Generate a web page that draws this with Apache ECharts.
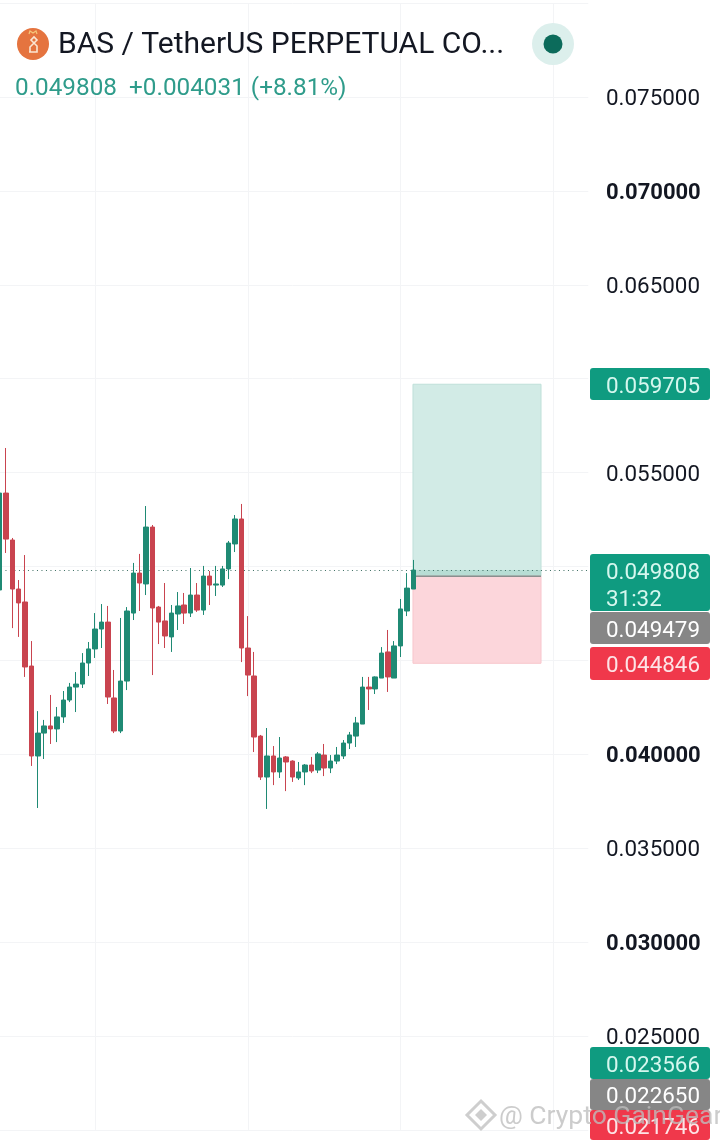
<!DOCTYPE html>
<html><head><meta charset="utf-8">
<style>html,body{margin:0;padding:0;background:#fff;overflow:hidden;width:720px;height:1140px}#c{width:724px;height:1140px;margin-left:-4px}</style>
<script src="https://cdn.jsdelivr.net/npm/echarts@6/dist/echarts.min.js"></script>
</head><body><div id="c"></div>
<script>
const candleOpen=[.04875,.05391,.05141,.04880,.04811,.04470,.03991,.04113,.04151,.04135,.04199,.04289,.04358,.04374,.04486,.04561,.04667,.04704,.04300,.04124,.04390,.04752,.04965,.04907,.05210,.04784,.04710,.04625,.04747,.04795,.04752,.04848,.04768,.04949,.04901,.04901,.04987,.05120,.05253,.04566,.04417,.04097,.03879,.03991,.03906,.03986,.03964,.03874,.03906,.03943,.03916,.03996,.03927,.03964,.03991,.04060,.04097,.04161,.04358,.04348,.04406,.04545,.04406,.04577,.04763,.04880];
const candleClose=[.05391,.05146,.04880,.04806,.04465,.03991,.04113,.04151,.04135,.04199,.04289,.04358,.04374,.04486,.04561,.04667,.04704,.04305,.04124,.04390,.04763,.04965,.04912,.05210,.04779,.04704,.04630,.04752,.04790,.04752,.04848,.04768,.04949,.04901,.04907,.04987,.05125,.05253,.04566,.04422,.04092,.03879,.03991,.03906,.03980,.03959,.03879,.03906,.03943,.03911,.04002,.03927,.03964,.03996,.04060,.04103,.04167,.04358,.04348,.04412,.04539,.04412,.04577,.04774,.04885,.04981];
const candleLow=[.04870,.05072,.04672,.04625,.04412,.03938,.03714,.03975,.04055,.04065,.04167,.04278,.04225,.04353,.04417,.04513,.04566,.04268,.04113,.04113,.04342,.04715,.04763,.04848,.04422,.04587,.04566,.04545,.04662,.04694,.04731,.04758,.04742,.04795,.04843,.04891,.04933,.05077,.04491,.04310,.04012,.03863,.03709,.03836,.03874,.03804,.03853,.03863,.03836,.03900,.03900,.03884,.03900,.03948,.03975,.04028,.04039,.04161,.04236,.04321,.04406,.04332,.04406,.04518,.04736,.04880];
const candleHigh=[.05423,.05631,.05152,.04928,.05061,.04603,.04230,.04183,.04316,.04252,.04337,.04380,.04438,.04539,.04598,.04752,.04800,.04790,.04449,.04726,.04784,.05019,.05067,.05322,.05221,.04790,.04912,.04795,.04864,.04859,.04992,.04912,.05003,.04976,.05003,.05003,.05136,.05274,.05333,.04736,.04545,.04103,.04140,.04044,.04092,.03991,.03968,.03959,.03948,.03986,.04012,.04055,.03996,.04039,.04076,.04119,.04199,.04412,.04412,.04415,.04571,.04662,.04603,.04827,.04965,.05035];
const slotCount=93;
const timeGridSlots=[15,39,63,87];
const boldTicks=[70,40,30];
const hiddenTicks=[80,60,50,45,20];
const lastPrice=0.049808, takeProfit=0.059705, entryPrice=0.049479, stopLoss=0.044846;
const positionStart=64.95, positionEnd=85.07;
const tagTexts=['0.059705','0.049808','0.049479','0.044846','0.023566','0.022650','0.021746'];
const titleText='BAS / TetherUS PERPETUAL CO...';
const quoteText='0.049808  +0.004031 (+8.81%)';
const countdownText='31:32';
const watermarkText='@ Crypto GainGear';

const UP='#1f8a74',DOWN='#c9444f',GRID='#f3f4f6';
const tagStyle=[[368,32,'#0f9b80','#d5f7ee'],[554,57,'#0f9b80','#d5f7ee'],[612,32,'#868686','#ffffff'],[647,33,'#f0384b','#fde3e6'],[1047,32,'#0f9b80','#d5f7ee'],[1079,31,'#868686','#ffffff'],[1110,30,'#f0384b','#fde3e6']];
const slots=Array.from({length:slotCount},(_,i)=>String(i));
const g=[];
tagTexts.forEach((t,i)=>{
  const [y,h,bg,fg]=tagStyle[i];
  g.push({type:'rect',z:100,shape:{x:590,y,width:120,height:h,r:3},style:{fill:bg}});
  g.push({type:'text',z:101,style:{x:606,y:(i===1?y+16:y+h/2)+3,text:t,fill:fg,font:'22.4px Roboto',textVerticalAlign:'middle',textBaseline:'middle'}});
});
g.push({type:'text',z:101,style:{x:606,y:600,text:countdownText,fill:'#d5f7ee',font:'22.4px Roboto',textBaseline:'middle',textVerticalAlign:'middle'}});
g.push({type:'text',z:50,style:{x:58,y:45,text:titleText,fill:'#131722',font:'30px Roboto',textBaseline:'middle',textVerticalAlign:'middle'}});
g.push({type:'text',z:50,style:{x:15,y:88.5,text:quoteText,fill:'#2f9c8b',font:'24.3px Roboto',textBaseline:'middle',textVerticalAlign:'middle'}});
g.push({type:'circle',z:50,shape:{cx:33,cy:44,r:16},style:{fill:'#e5743f'}});
g.push({type:'polyline',z:51,shape:{points:[[29,52],[37,52],[37,46],[31,40],[34,37],[37,40],[30,47],[30,52]]},style:{stroke:'#fbe6d3',lineWidth:1.6,fill:null}});
g.push({type:'polyline',z:51,shape:{points:[[29,34],[30,31],[33,33],[36,31],[37,34]]},style:{stroke:'#f5c77a',lineWidth:1.2,fill:null}});
g.push({type:'circle',z:50,shape:{cx:553,cy:44,r:21},style:{fill:'#dcefec'}});
g.push({type:'circle',z:51,shape:{cx:553,cy:44,r:9.5},style:{fill:'#0c6b5b'}});
g.push({type:'polygon',z:120,shape:{points:[[481,1101],[495,1115],[481,1129],[467,1115]]},style:{stroke:'rgba(190,190,190,.75)',lineWidth:3,fill:null}});
g.push({type:'polygon',z:120,shape:{points:[[481,1109],[487,1115],[481,1121],[475,1115]]},style:{fill:'rgba(190,190,190,.75)'}});
g.push({type:'text',z:120,style:{x:499,y:1117,text:watermarkText,fill:'rgba(190,190,190,.78)',font:'26.5px Roboto',textBaseline:'middle',textVerticalAlign:'middle'}});

const chart=echarts.init(document.getElementById('c'),null,{renderer:'canvas',width:724,height:1140});
chart.setOption({
  animation:false,backgroundColor:'#fff',
  grid:{left:0.46,top:3.1,width:591.85,height:1126.8,containLabel:false},
  xAxis:[
   {type:'category',data:slots,boundaryGap:true,axisLine:{show:false},axisTick:{show:false},axisLabel:{show:false},
    splitLine:{show:true,alignWithLabel:true,interval:(i)=>timeGridSlots.includes(i),lineStyle:{color:GRID,width:1}}},
   {type:'value',min:-0.5,max:slotCount-0.5,show:false,splitLine:{show:false}}
  ],
  yAxis:{type:'value',position:'right',min:0.02,max:0.08,interval:0.005,
    axisLine:{show:false},axisTick:{show:false},splitLine:{show:true,lineStyle:{color:GRID,width:1}},
    axisLabel:{margin:17.7,color:'#131722',fontFamily:'Roboto',fontSize:22.4,padding:[5,0,0,0],
      formatter:(v)=>{const k=Math.round(v*1000);if(hiddenTicks.includes(k))return '';const s=v.toFixed(6);return boldTicks.includes(k)?'{b|'+s+'}':s;},
      rich:{b:{fontWeight:'bold',fontFamily:'Roboto',fontSize:22,color:'#131722'}}}},
  series:[
   {type:'candlestick',barWidth:5,xAxisIndex:0,yAxisIndex:0,z:5,
    data:candleOpen.map((o,i)=>[o,candleClose[i],candleLow[i],candleHigh[i]]),
    itemStyle:{color:UP,color0:DOWN,borderColor:UP,borderColor0:DOWN,borderWidth:1}},
   {type:'line',xAxisIndex:1,yAxisIndex:0,symbol:'none',silent:true,z:3,
    data:[[positionStart,entryPrice],[positionEnd,entryPrice]],lineStyle:{color:'#8a8f8e',width:1.5},
    markArea:{silent:true,data:[
      [{xAxis:positionStart,yAxis:takeProfit,itemStyle:{color:'#d2ebe6',borderColor:'#bfe0d9',borderWidth:1}},{xAxis:positionEnd,yAxis:entryPrice}],
      [{xAxis:positionStart,yAxis:entryPrice,itemStyle:{color:'#fcd6db',borderColor:'#f8c6cd',borderWidth:1}},{xAxis:positionEnd,yAxis:stopLoss}],
      [{xAxis:positionStart,yAxis:lastPrice,itemStyle:{color:'rgba(31,138,116,.15)'}},{xAxis:positionEnd,yAxis:entryPrice}]
    ]},
    markLine:{silent:true,symbol:'none',precision:6,label:{show:false},lineStyle:{color:'#3f6f64',type:[1,3.5],width:1.2},data:[{yAxis:lastPrice}]}}
  ],
  graphic:[{type:'group',x:4,y:0,children:g}]
});
</script></body></html>
